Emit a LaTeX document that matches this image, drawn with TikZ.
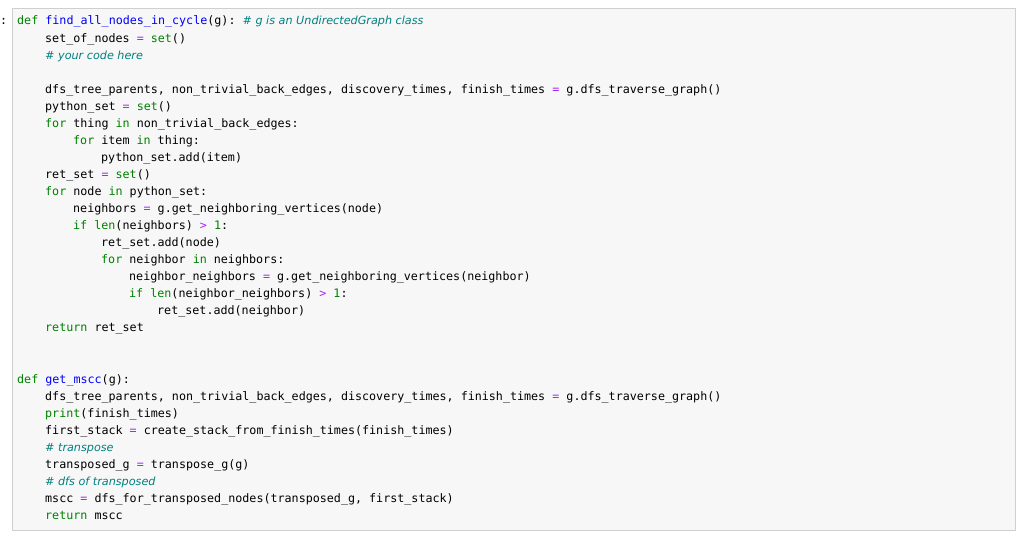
\documentclass[tikz,border=0pt]{standalone}
\usepackage{fontspec}
\setmonofont{DejaVu Sans Mono}[Scale=1]
\newfontfamily\cmfont{DejaVu Sans}
\definecolor{kwc}{HTML}{008000}
\definecolor{fnc}{HTML}{0000FF}
\definecolor{opc}{HTML}{AA22FF}
\definecolor{cmc}{HTML}{008080}
\definecolor{cellbg}{HTML}{F7F7F7}
\definecolor{cellbd}{HTML}{CFCFCF}
\newcommand{\kw}[1]{\textcolor{kwc}{#1}}
\newcommand{\fnm}[1]{\textcolor{fnc}{#1}}
\newcommand{\opr}[1]{\textcolor{opc}{#1}}
\newcommand{\cmt}[1]{{\cmfont\itshape\fontsize{11.2}{13}\selectfont\textcolor{cmc}{#1}}}
\begin{document}
\begin{tikzpicture}[x=1pt,y=-1pt,
  code/.style={anchor=base west,inner sep=0pt,font=\ttfamily\fontsize{11.7}{14}\selectfont}]
\useasboundingbox (0,0) rectangle (1025,540);
\node[draw=cellbd,fill=cellbg,line width=0.8pt,minimum width=1003pt,minimum height=522pt,anchor=north west,inner sep=0pt] (cell) at (12,8) {};
\node[code] (prompt) at (0,25) {:};
\def\L#1#2#3{\node[code] (l#1) at ({17+28*#2},{25+17.05*(#1-1)}) {#3};}
\L{1}{0}{\kw{def} \fnm{find\_all\_nodes\_in\_cycle}(g):\hspace{0.6em}\cmt{\# g is an UndirectedGraph class}}
\L{2}{1}{set\_of\_nodes \opr{=} \kw{set}()}
\L{3}{1}{\cmt{\# your code here}}
\L{5}{1}{dfs\_tree\_parents, non\_trivial\_back\_edges, discovery\_times, finish\_times \opr{=} g.dfs\_traverse\_graph()}
\L{6}{1}{python\_set \opr{=} \kw{set}()}
\L{7}{1}{\kw{for} thing \kw{in} non\_trivial\_back\_edges:}
\L{8}{2}{\kw{for} item \kw{in} thing:}
\L{9}{3}{python\_set.add(item)}
\L{10}{1}{ret\_set \opr{=} \kw{set}()}
\L{11}{1}{\kw{for} node \kw{in} python\_set:}
\L{12}{2}{neighbors \opr{=} g.get\_neighboring\_vertices(node)}
\L{13}{2}{\kw{if} \kw{len}(neighbors) \opr{>} \kw{1}:}
\L{14}{3}{ret\_set.add(node)}
\L{15}{3}{\kw{for} neighbor \kw{in} neighbors:}
\L{16}{4}{neighbor\_neighbors \opr{=} g.get\_neighboring\_vertices(neighbor)}
\L{17}{4}{\kw{if} \kw{len}(neighbor\_neighbors) \opr{>} \kw{1}:}
\L{18}{5}{ret\_set.add(neighbor)}
\L{19}{1}{\kw{return} ret\_set}
\L{22}{0}{\kw{def} \fnm{get\_mscc}(g):}
\L{23}{1}{dfs\_tree\_parents, non\_trivial\_back\_edges, discovery\_times, finish\_times \opr{=} g.dfs\_traverse\_graph()}
\L{24}{1}{\kw{print}(finish\_times)}
\L{25}{1}{first\_stack \opr{=} create\_stack\_from\_finish\_times(finish\_times)}
\L{26}{1}{\cmt{\# transpose}}
\L{27}{1}{transposed\_g \opr{=} transpose\_g(g)}
\L{28}{1}{\cmt{\# dfs of transposed}}
\L{29}{1}{mscc \opr{=} dfs\_for\_transposed\_nodes(transposed\_g, first\_stack)}
\L{30}{1}{\kw{return} mscc}
\end{tikzpicture}
\end{document}
